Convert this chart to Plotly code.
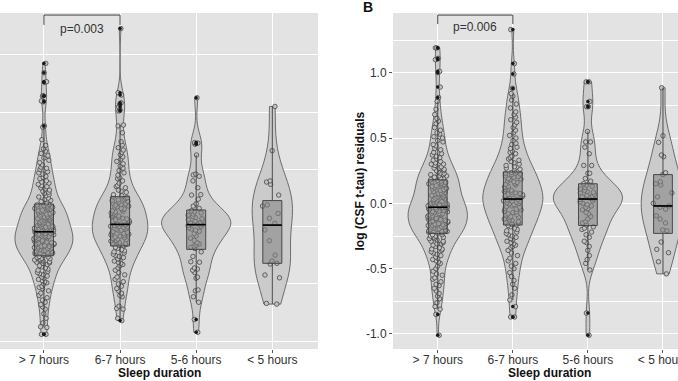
import plotly.graph_objects as go

# ---------------- data ----------------
CATEGORIES = ["> 7 hours", "6-7 hours", "5-6 hours", "< 5 hours"]
POSITIONS = [1, 2, 3, 4]

# Panel A (left, y axis cut off in the source image)
a_gt7 = [0.713, 0.672, 0.633, 0.630, 0.572, 0.570, 0.549, 0.545, 0.440, 0.435, 0.380, 0.355, 0.340, 0.330, 0.320,
         0.310, 0.300, 0.290, 0.280, 0.270, 0.260, 0.255, 0.250, 0.240, 0.235, 0.230, 0.220, 0.215, 0.210, 0.200,
         0.195, 0.190, 0.185, 0.180, 0.175, 0.170, 0.165, 0.160, 0.155, 0.150, 0.145, 0.140, 0.135, 0.130, 0.125,
         0.120, 0.115, 0.110, 0.105, 0.100,
         0.097, 0.095, 0.092, 0.090, 0.087, 0.085, 0.082, 0.080, 0.077, 0.075, 0.072, 0.070, 0.067, 0.065, 0.062,
         0.060, 0.057, 0.055, 0.052, 0.050, 0.047, 0.045, 0.042, 0.040, 0.037, 0.035, 0.032, 0.030, 0.027, 0.025,
         0.022, 0.020, 0.017, 0.015, 0.012, 0.010, 0.007, 0.005, 0.002, 0.000, -0.002, -0.005, -0.007, -0.010,
         -0.012, -0.015, -0.017, -0.019, -0.020, -0.021,
         -0.023, -0.025, -0.027, -0.029, -0.031, -0.033, -0.035, -0.037, -0.039, -0.041, -0.043, -0.045, -0.047,
         -0.049, -0.051, -0.053, -0.055, -0.057, -0.059, -0.061, -0.063, -0.065, -0.067, -0.069, -0.071, -0.073,
         -0.075, -0.077, -0.079, -0.081, -0.083, -0.085, -0.087, -0.089, -0.091, -0.093, -0.095, -0.097, -0.099,
         -0.101, -0.103, -0.105, -0.107, -0.109, -0.111, -0.113, -0.115, -0.118, -0.121, -0.125,
         -0.130, -0.132, -0.135, -0.138, -0.140, -0.143, -0.145, -0.148, -0.150, -0.153, -0.155, -0.158, -0.160,
         -0.165, -0.170, -0.175, -0.180, -0.185, -0.190, -0.195, -0.200, -0.205, -0.210, -0.215, -0.220, -0.225,
         -0.230, -0.235, -0.240, -0.245, -0.250, -0.260, -0.265, -0.270, -0.280, -0.290, -0.300, -0.310, -0.320,
         -0.330, -0.340, -0.350, -0.360, -0.380, -0.400, -0.420, -0.437, -0.440, -0.470, -0.470]
a_67 = [0.865, 0.585, 0.575, 0.541, 0.535, 0.524, 0.510, 0.505, 0.444, 0.440, 0.410, 0.371, 0.357, 0.345, 0.335,
        0.325, 0.315, 0.305, 0.295, 0.285, 0.275, 0.265, 0.255, 0.245, 0.235, 0.225, 0.215, 0.210, 0.200, 0.190,
        0.180, 0.175, 0.170, 0.160, 0.155, 0.150, 0.140, 0.135,
        0.130, 0.127, 0.124, 0.120, 0.117, 0.114, 0.110, 0.107, 0.104, 0.100, 0.097, 0.094, 0.090, 0.087, 0.084,
        0.080, 0.077, 0.074, 0.070, 0.067, 0.064, 0.060, 0.057, 0.054, 0.050, 0.047, 0.044, 0.040, 0.037, 0.034,
        0.030, 0.027, 0.024, 0.020, 0.017, 0.014, 0.012, 0.011,
        0.008, 0.005, 0.002, 0.000, -0.003, -0.006, -0.009, -0.012, -0.015, -0.018, -0.021, -0.024, -0.027,
        -0.030, -0.033, -0.036, -0.039, -0.042, -0.045, -0.048, -0.051, -0.054, -0.057, -0.060, -0.063, -0.066,
        -0.069, -0.072, -0.075, -0.078, -0.081, -0.083,
        -0.090, -0.095, -0.100, -0.105, -0.110, -0.115, -0.120, -0.125, -0.130, -0.135, -0.140, -0.145, -0.150,
        -0.155, -0.160, -0.165, -0.170, -0.180, -0.190, -0.200, -0.210, -0.220, -0.230, -0.240, -0.250, -0.260,
        -0.270, -0.280, -0.290, -0.300, -0.306, -0.347, -0.357, -0.360, -0.400, -0.410]
a_56 = [0.563, 0.367, 0.365, 0.360, 0.313, 0.230, 0.226, 0.220, 0.200, 0.170, 0.140, 0.138, 0.120, 0.100, 0.090,
        0.080, 0.070, 0.065, 0.060, 0.055, 0.050, 0.045, 0.040, 0.035, 0.030, 0.027, 0.024, 0.020, 0.017, 0.014,
        0.012, 0.010, 0.005, 0.000, -0.005, -0.010, -0.015, -0.020, -0.030, -0.040, -0.050, -0.060, -0.070,
        -0.075, -0.080, -0.085, -0.090, -0.095, -0.110, -0.130, -0.153, -0.155, -0.180, -0.185, -0.190, -0.200,
        -0.220, -0.225, -0.276, -0.280, -0.306, -0.330, -0.405, -0.461]
a_lt5 = [0.525, 0.332, 0.200, 0.195, 0.185, 0.138, 0.095, 0.090, 0.058, 0.037, 0.015, -0.014, -0.061, -0.124,
         -0.150, -0.160, -0.163, -0.211, -0.223, -0.335, -0.338]

a_q1 = [-0.127, -0.084, -0.099, -0.160]
a_median = [-0.022, 0.010, 0.009, 0.007]
a_q3 = [0.099, 0.131, 0.073, 0.114]

# Panel B (right): log (CSF t-tau) residuals
b_gt7 = [1.19, 1.19, 1.11, 1.10, 1.01, 1.00, 0.89, 0.81, 0.78, 0.72, 0.68, 0.65, 0.63, 0.61, 0.58, 0.56, 0.54,
         0.53, 0.51, 0.50, 0.48, 0.47, 0.45, 0.44, 0.42, 0.41,
         0.39, 0.38, 0.37, 0.36, 0.35, 0.34, 0.33, 0.32, 0.31, 0.30, 0.30, 0.29, 0.28, 0.27, 0.27, 0.26, 0.25, 0.25,
         0.24, 0.23, 0.23, 0.22, 0.22, 0.21, 0.21, 0.20, 0.20, 0.19, 0.19,
         0.18, 0.175, 0.17, 0.165, 0.16, 0.155, 0.15, 0.145, 0.14, 0.135, 0.13, 0.125, 0.12, 0.115, 0.11, 0.105,
         0.10, 0.095, 0.09, 0.085, 0.08, 0.075, 0.07, 0.065, 0.06, 0.055, 0.05, 0.045, 0.04, 0.035, 0.03, 0.025,
         0.02, 0.015, 0.01, 0.005, 0.00, -0.005, -0.01, -0.013, -0.016, -0.019, -0.022, -0.025, -0.028,
         -0.03, -0.033, -0.035, -0.04, -0.045, -0.048, -0.05, -0.055, -0.06, -0.063, -0.065, -0.07, -0.075, -0.078,
         -0.08, -0.085, -0.09, -0.093, -0.095, -0.10, -0.105, -0.108, -0.11, -0.115, -0.12, -0.123, -0.125, -0.13,
         -0.135, -0.138, -0.14, -0.145, -0.15, -0.153, -0.155, -0.16, -0.165, -0.168, -0.17, -0.175, -0.18, -0.183,
         -0.185, -0.19, -0.195, -0.198, -0.20, -0.205, -0.21, -0.213, -0.215, -0.22, -0.225, -0.228,
         -0.24, -0.24, -0.25, -0.25, -0.26, -0.26, -0.27, -0.27, -0.28, -0.29, -0.29, -0.30, -0.31, -0.31, -0.32,
         -0.33, -0.34, -0.35, -0.35, -0.36, -0.37, -0.38, -0.39, -0.40, -0.41, -0.42, -0.43, -0.44, -0.45, -0.46,
         -0.48, -0.50, -0.52, -0.54, -0.55, -0.57, -0.58, -0.60, -0.62, -0.63, -0.65, -0.67, -0.69, -0.71, -0.73,
         -0.76, -0.79, -0.81, -0.85, -1.01]
b_67 = [1.33, 1.07, 0.99, 0.88, 0.84, 0.82, 0.79, 0.76, 0.73, 0.70, 0.68, 0.66, 0.64, 0.62, 0.60, 0.58, 0.56,
        0.54, 0.52, 0.50, 0.48, 0.46, 0.45, 0.43, 0.42, 0.40, 0.39, 0.38, 0.36, 0.35, 0.34, 0.33, 0.32, 0.31,
        0.30, 0.29, 0.28, 0.27, 0.26, 0.25,
        0.24, 0.235, 0.23, 0.225, 0.22, 0.21, 0.205, 0.20, 0.19, 0.185, 0.18, 0.17, 0.165, 0.16, 0.15, 0.145,
        0.14, 0.13, 0.125, 0.12, 0.11, 0.105, 0.10, 0.09, 0.085, 0.08, 0.075, 0.07, 0.065, 0.06, 0.055, 0.05,
        0.045, 0.04, 0.035,
        0.03, 0.025, 0.02, 0.015, 0.01, 0.005, 0.0, -0.005, -0.01, -0.02, -0.025, -0.03, -0.04, -0.045, -0.05,
        -0.06, -0.065, -0.07, -0.08, -0.085, -0.09, -0.10, -0.105, -0.11, -0.12, -0.125, -0.13, -0.14, -0.145,
        -0.15, -0.16, -0.165,
        -0.17, -0.18, -0.19, -0.20, -0.21, -0.22, -0.23, -0.24, -0.25, -0.26, -0.27, -0.28, -0.29, -0.30, -0.31,
        -0.32, -0.33, -0.34, -0.36, -0.38, -0.40, -0.42, -0.44, -0.46, -0.48, -0.50, -0.53, -0.56, -0.59, -0.62,
        -0.65, -0.70, -0.74, -0.79, -0.87, -0.87]
b_56 = [0.93, 0.93, 0.78, 0.74, 0.74, 0.55, 0.47, 0.47, 0.43, 0.38, 0.29, 0.29, 0.23, 0.23, 0.19, 0.17,
        0.15, 0.14, 0.13, 0.12, 0.11, 0.10, 0.09, 0.085, 0.08, 0.07, 0.06, 0.055, 0.05, 0.045, 0.04, 0.035,
        0.03, 0.02, 0.01, 0.0, -0.01, -0.02, -0.03, -0.04, -0.05, -0.07, -0.08, -0.10, -0.12, -0.14, -0.15,
        -0.165, -0.18, -0.19, -0.20, -0.22, -0.24, -0.26, -0.29, -0.30, -0.33, -0.36, -0.40, -0.43, -0.46,
        -0.51, -0.84, -1.01]
b_lt5 = [0.885, 0.517, 0.467, 0.370, 0.357, 0.234, 0.220, 0.165, 0.150, 0.140, 0.080, 0.050, 0.000, -0.020,
         -0.030, -0.044, -0.095, -0.120, -0.150, -0.204, -0.210, -0.296, -0.352, -0.378, -0.447, -0.540]

b_q1 = [-0.23, -0.166, -0.17, -0.23]
b_median = [-0.03, 0.033, 0.033, -0.02]
b_q3 = [0.18, 0.24, 0.15, 0.22]

B_TICKVALS = [-1.0, -0.5, 0.0, 0.5, 1.0]
B_TICKTEXT = ["-1.0", "-0.5", "0.0", "0.5", "1.0"]
P_LABELS = ["p=0.003", "p=0.006"]
X_TITLE = "Sleep duration"
Y_TITLE_B = "log (CSF t-tau) residuals"
PANEL_LABEL = "B"

# ---------------- style ----------------
FONT = "Liberation Sans, Arial, sans-serif"
BG = "#e3e3e3"
VIOLIN_FILL = "rgb(203,203,203)"
VIOLIN_LINE = "rgb(80,80,80)"
BOX_FILL = "rgba(130,130,130,0.55)"
BOX_LINE = "rgb(60,60,60)"
BOX_W = 0.25
A_VIOLIN_W = [0.76, 0.73, 0.91, 0.53]
B_VIOLIN_W = [0.79, 0.80, 0.92, 0.58]
A_JITTER = [0.35, 0.36, 0.29, 0.5]
B_JITTER = [0.34, 0.33, 0.29, 0.46]
A_BW = [0.04, 0.045, 0.05, 0.09]
B_BW = [0.07, 0.08, 0.09, 0.14]


def fences(vals, q1, q3):
    iqr = q3 - q1
    lo_f, hi_f = q1 - 1.5 * iqr, q3 + 1.5 * iqr
    inside = [v for v in vals if lo_f <= v <= hi_f]
    outs = [v for v in vals if v < lo_f or v > hi_f]
    return min(inside), max(inside), outs


fig = go.Figure()


def add_panel(groups, q1s, meds, q3s, widths, jitters, bws, xa, ya):
    for pos, vals, w, j, bw in zip(POSITIONS, groups, widths, jitters, bws):
        fig.add_trace(go.Violin(
            y=vals, x0=pos, xaxis=xa, yaxis=ya, width=w, bandwidth=bw, spanmode="hard",
            scalemode="width", points="all", pointpos=0, jitter=j,
            fillcolor=VIOLIN_FILL, line=dict(color=VIOLIN_LINE, width=0.8),
            marker=dict(size=4.5, color="rgb(195,195,195)", line=dict(color="rgb(55,55,55)", width=0.7)),
            box_visible=False, meanline_visible=False, hoverinfo="skip", showlegend=False))
    for pos, vals, q1, md, q3 in zip(POSITIONS, groups, q1s, meds, q3s):
        lo, hi, outs = fences(vals, q1, q3)
        fig.add_trace(go.Box(
            x=[pos], q1=[q1], median=[md], q3=[q3], lowerfence=[lo], upperfence=[hi],
            xaxis=xa, yaxis=ya, width=BOX_W, whiskerwidth=0, boxpoints=False,
            fillcolor=BOX_FILL, line=dict(color=BOX_LINE, width=0.9),
            hoverinfo="skip", showlegend=False))
        fig.add_trace(go.Scatter(
            x=[pos] * len(outs), y=outs, xaxis=xa, yaxis=ya, mode="markers",
            marker=dict(size=3.6, color="rgb(25,25,25)"), hoverinfo="skip", showlegend=False))
        fig.add_shape(type="line", xref=xa, yref=ya, x0=pos - BOX_W / 2, x1=pos + BOX_W / 2,
                      y0=md, y1=md, line=dict(color="black", width=1.6))


add_panel([a_gt7, a_67, a_56, a_lt5], a_q1, a_median, a_q3, A_VIOLIN_W, A_JITTER, A_BW, "x", "y")
add_panel([b_gt7, b_67, b_56, b_lt5], b_q1, b_median, b_q3, B_VIOLIN_W, B_JITTER, B_BW, "x2", "y2")

# significance brackets
for xr, yr, top, leg, ty, lab in [("x", "y", 0.924, 0.881, 0.862, P_LABELS[0]),
                                  ("x2", "y2", 1.441, 1.372, 1.351, P_LABELS[1])]:
    fig.add_shape(type="path", xref=xr, yref=yr,
                  path=f"M 1,{leg} L 1,{top} L 2,{top} L 2,{leg}",
                  line=dict(color="rgb(70,70,70)", width=1))
    fig.add_annotation(xref=xr, yref=yr, x=1.5, y=ty, text=lab, showarrow=False,
                       xanchor="center", yanchor="middle",
                       font=dict(family=FONT, size=12, color="#333333"))

xcommon = dict(type="linear", tickmode="array", tickvals=POSITIONS, ticktext=CATEGORIES,
               showgrid=True, gridcolor="white", gridwidth=1, zeroline=False, showline=False,
               ticks="outside", ticklen=3, tickwidth=1, tickcolor="#555555", automargin=False,
               ticklabelstandoff=-3, ticklabeloverflow="allow",
               tickfont=dict(family=FONT, size=12, color="#333333"), fixedrange=True)

fig.update_layout(
    width=678, height=381, margin=dict(l=0, r=0, t=13, b=32, autoexpand=False),
    paper_bgcolor="white", plot_bgcolor=BG, showlegend=False,
    violinmode="overlay", boxmode="overlay",
    font=dict(family=FONT, size=12, color="#333333"),
    xaxis=dict(domain=[0, 318 / 678], range=[0.423, 4.6], anchor="y", **xcommon),
    xaxis2=dict(domain=[393 / 678, 1], range=[0.404, 4.2], anchor="y2", **xcommon),
    yaxis=dict(domain=[0, 1], range=[-0.534, 0.933], anchor="x", showticklabels=False, ticks="",
               tickmode="linear", tick0=0, dtick=0.25, showgrid=True, gridcolor="white", gridwidth=1,
               zeroline=False, showline=False, fixedrange=True, automargin=False),
    yaxis2=dict(domain=[0, 1], range=[-1.115, 1.457], anchor="x2", tickmode="array",
                tickvals=B_TICKVALS, ticktext=B_TICKTEXT, ticks="outside", ticklen=3, tickwidth=1,
                tickcolor="#555555", tickfont=dict(family=FONT, size=12, color="#333333"),
                showgrid=True, gridcolor="white", gridwidth=1, zeroline=False, showline=False,
                minor=dict(tickmode="linear", tick0=0, dtick=0.25, showgrid=True, gridcolor="white",
                           gridwidth=0.8, ticks=""),
                fixedrange=True, automargin=False),
)

fig.add_annotation(xref="paper", yref="paper", x=159 / 678, y=-0.0714, text=f"<b>{X_TITLE}</b>",
                   xanchor="center", yanchor="middle",
                   showarrow=False, font=dict(family=FONT, size=12, color="#111111"))
fig.add_annotation(xref="paper", yref="paper", x=549.5 / 678, y=-0.0714, text=f"<b>{X_TITLE}</b>",
                   xanchor="center", yanchor="middle",
                   showarrow=False, font=dict(family=FONT, size=12, color="#111111"))
fig.add_annotation(xref="paper", yref="paper", x=360 / 678, y=0.4985, text=f"<b>{Y_TITLE_B}</b>",
                   xanchor="center", yanchor="middle",
                   textangle=-90, showarrow=False, font=dict(family=FONT, size=12, color="#111111"))
fig.add_annotation(xref="paper", yref="paper", x=367.5 / 678, y=1.0173, text=f"<b>{PANEL_LABEL}</b>",
                   xanchor="center", yanchor="middle",
                   showarrow=False, font=dict(family=FONT, size=14, color="#111111"))

fig.write_html("out.html", config={"displayModeBar": False},
               post_script="document.body.style.margin='0px';document.body.style.overflow='hidden';")
